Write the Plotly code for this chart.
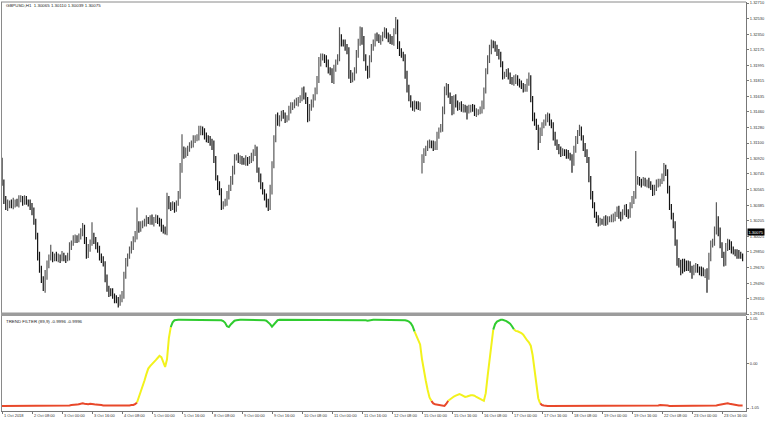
import plotly.graph_objects as go

# ---------------- data ----------------
close = [
 1.3065,1.3045,1.3036,1.3040,1.3041,1.3038,1.3041,1.3042,1.3040,1.3045,1.3046,1.3043,1.3045,1.3042,1.3041,1.3038,1.3031,1.3019,1.3004,1.2981,
 1.2966,1.2953,1.2944,1.2958,1.2970,1.2978,1.2981,1.2978,1.2980,1.2977,1.2979,1.2977,1.2980,1.2978,1.2977,1.2979,1.2992,1.2995,1.2999,1.3001,
 1.3000,1.3002,1.3007,1.3012,1.2999,1.2981,1.2989,1.2995,1.3001,1.2999,1.2992,1.2987,1.2980,1.2976,1.2971,1.2955,1.2943,1.2939,1.2938,1.2934,
 1.2931,1.2930,1.2928,1.2931,1.2934,1.2958,1.2973,1.2980,1.2987,1.2992,1.2999,1.3003,1.3016,1.3012,1.3015,1.3018,1.3019,1.3022,1.3020,1.3023,
 1.3019,1.3022,1.3024,1.3020,1.3018,1.3013,1.3010,1.3008,1.3045,1.3039,1.3036,1.3038,1.3035,1.3041,1.3050,1.3081,1.3102,1.3096,1.3100,1.3104,
 1.3107,1.3110,1.3114,1.3115,1.3117,1.3124,1.3126,1.3122,1.3118,1.3116,1.3114,1.3110,1.3107,1.3091,1.3070,1.3061,1.3054,1.3038,1.3040,1.3042,
 1.3050,1.3058,1.3066,1.3079,1.3093,1.3094,1.3091,1.3092,1.3089,1.3088,1.3091,1.3089,1.3091,1.3094,1.3099,1.3102,1.3079,1.3070,1.3061,1.3054,
 1.3048,1.3041,1.3036,1.3056,1.3085,1.3114,1.3139,1.3134,1.3139,1.3143,1.3141,1.3138,1.3139,1.3148,1.3153,1.3154,1.3156,1.3157,1.3160,1.3161,
 1.3169,1.3164,1.3160,1.3139,1.3150,1.3156,1.3163,1.3169,1.3183,1.3203,1.3208,1.3209,1.3206,1.3202,1.3194,1.3191,1.3183,1.3196,1.3203,1.3208,
 1.3231,1.3226,1.3224,1.3220,1.3217,1.3189,1.3183,1.3187,1.3194,1.3211,1.3226,1.3240,1.3228,1.3208,1.3196,1.3189,1.3206,1.3220,1.3226,1.3232,
 1.3231,1.3228,1.3231,1.3234,1.3238,1.3234,1.3231,1.3228,1.3226,1.3238,1.3249,1.3223,1.3214,1.3211,1.3209,1.3188,1.3173,1.3162,1.3154,1.3151,
 1.3155,1.3153,1.3151,1.3153,1.3091,1.3100,1.3104,1.3108,1.3110,1.3109,1.3105,1.3107,1.3119,1.3125,1.3127,1.3148,1.3169,1.3174,1.3165,1.3160,
 1.3146,1.3160,1.3156,1.3151,1.3153,1.3150,1.3151,1.3148,1.3148,1.3150,1.3151,1.3149,1.3145,1.3146,1.3146,1.3148,1.3154,1.3171,1.3192,1.3206,
 1.3217,1.3225,1.3222,1.3219,1.3215,1.3210,1.3200,1.3188,1.3189,1.3191,1.3187,1.3183,1.3180,1.3183,1.3185,1.3180,1.3177,1.3176,1.3173,1.3174,
 1.3180,1.3185,1.3160,1.3140,1.3134,1.3128,1.3114,1.3123,1.3130,1.3134,1.3139,1.3140,1.3134,1.3130,1.3118,1.3111,1.3105,1.3101,1.3099,1.3100,
 1.3099,1.3097,1.3095,1.3094,1.3088,1.3102,1.3114,1.3122,1.3125,1.3116,1.3105,1.3099,1.3091,1.3068,1.3050,1.3039,1.3027,1.3022,1.3019,1.3020,
 1.3019,1.3022,1.3020,1.3022,1.3023,1.3024,1.3024,1.3028,1.3033,1.3027,1.3025,1.3031,1.3035,1.3030,1.3027,1.3039,1.3045,1.3050,1.3065,1.3068,
 1.3065,1.3064,1.3066,1.3064,1.3065,1.3062,1.3059,1.3054,1.3058,1.3063,1.3065,1.3066,1.3070,1.3081,1.3077,1.3056,1.3036,1.3027,1.3016,1.2995,
 1.2973,1.2973,1.2973,1.2972,1.2972,1.2971,1.2969,1.2966,1.2964,1.2966,1.2967,1.2965,1.2964,1.2962,1.2961,1.2962,1.2958,1.2978,1.2993,1.2996,
 1.3008,1.3022,1.3008,1.2993,1.2981,1.2973,1.2989,1.2996,1.2992,1.2987,1.2985,1.2984,1.2982,1.2981,1.2980,1.2978,
]

upper_wick_pips = [
 14,3,4,5,3,4,6,3,4,5,4,3,5,4,3,4,3,5,4,3,
 4,3,4,6,5,4,12,4,3,5,4,3,6,4,3,5,4,3,5,4,
 3,4,5,6,4,3,5,4,18,6,3,4,5,3,4,3,4,3,4,5,
 3,4,3,5,6,4,5,3,4,5,4,6,20,4,5,3,4,5,3,4,
 5,3,4,3,4,5,3,4,8,4,3,5,4,3,5,6,18,4,5,3,
 4,3,5,4,3,6,4,3,5,4,3,4,5,6,4,3,5,4,3,4,
 5,4,6,5,4,3,5,4,3,4,5,3,4,5,4,6,4,3,5,4,
 3,4,5,6,4,5,4,6,3,4,5,4,3,5,4,3,4,5,3,4,
 5,6,4,3,5,4,3,5,4,6,5,4,3,5,4,3,5,4,3,4,
 12,4,3,5,4,3,5,4,3,6,4,4,3,5,4,3,5,4,3,4,
 5,4,3,4,5,4,3,4,5,4,6,3,4,5,4,3,5,4,3,4,
 4,3,5,4,6,4,3,5,4,3,4,5,4,3,5,4,6,5,4,3,
 4,5,6,3,4,5,4,3,5,4,3,4,5,4,3,4,5,3,4,5,
 6,4,3,5,4,3,5,4,3,4,5,4,3,5,4,3,4,5,3,4,
 4,6,3,4,5,4,3,5,4,3,4,5,4,3,4,5,3,4,5,4,
 3,4,5,4,3,5,4,3,6,4,3,5,4,3,4,5,3,4,5,4,
 3,4,5,4,3,4,5,3,4,5,4,3,4,5,4,3,4,5,36,4,
 3,4,5,4,3,5,4,3,4,5,4,3,5,6,4,3,5,4,3,4,
 4,5,3,4,5,3,4,5,3,4,5,4,3,4,5,3,4,6,5,4,
 6,20,4,5,3,4,6,4,3,5,4,3,4,5,4,3,
]

lower_wick_pips = [
 4,5,3,4,5,3,4,5,3,4,3,5,4,3,4,5,4,3,5,6,
 5,4,4,6,5,4,3,5,4,3,4,5,3,4,5,3,4,5,3,4,
 5,4,3,4,5,4,3,4,3,5,4,3,5,4,3,5,4,6,4,3,
 5,4,7,5,4,3,4,5,3,4,5,3,4,5,4,3,4,5,3,4,
 3,5,4,3,4,5,4,3,4,5,4,3,5,4,3,4,5,4,3,5,
 4,3,5,4,3,4,5,3,4,5,4,3,5,4,3,5,4,5,4,3,
 4,5,3,4,5,3,4,5,4,3,4,5,3,4,5,4,3,5,4,3,
 4,5,4,3,5,4,3,4,5,4,3,5,4,3,4,5,4,3,5,4,
 3,4,5,5,4,3,5,4,3,4,5,3,4,5,4,3,4,5,4,3,
 4,5,3,4,5,5,4,3,5,4,3,4,5,4,3,5,4,3,4,5,
 4,3,5,4,3,4,5,4,3,4,3,5,4,3,5,4,5,4,3,4,
 5,4,3,4,10,4,5,3,4,5,4,3,5,4,3,4,5,4,3,5,
 4,3,5,4,3,4,5,3,11,4,5,3,4,5,4,3,4,5,4,3,
 4,5,3,4,5,4,3,5,4,3,4,5,3,4,5,4,3,4,5,4,
 5,4,3,5,4,3,12,4,5,3,4,5,4,3,5,4,3,4,5,4,
 4,5,3,4,12,4,3,5,4,3,4,5,4,3,5,4,3,4,5,4,
 3,4,5,4,3,4,5,4,3,4,5,3,4,5,4,3,4,5,4,3,
 4,5,3,4,5,4,3,5,4,3,4,5,3,4,5,4,3,5,4,3,
 4,6,15,12,10,8,6,5,10,6,5,4,6,5,4,6,20,5,4,3,
 4,3,5,4,3,5,4,3,5,4,3,4,5,4,3,4,
]

# opens of bars that start a session after a gap (others open at previous close)
session_open = {0: 1.3079, 224: 1.3085}

trend_filter = [
 -1.00,-1.00,-0.99,-0.99,-1.00,-1.00,-1.00,-0.99,-0.99,-0.99,-1.00,-1.00,-1.00,-1.00,-1.00,-1.00,-1.00,-1.00,-1.00,-1.00,
 -1.00,-1.00,-1.00,-1.00,-1.00,-1.00,-1.00,-1.00,-0.99,-0.99,-0.99,-0.99,-0.99,-0.99,-0.99,-0.99,-0.99,-0.98,-0.98,-0.98,
 -0.97,-0.96,-0.95,-0.94,-0.95,-0.96,-0.96,-0.95,-0.95,-0.96,-0.97,-0.97,-0.98,-0.98,-0.99,-0.99,-0.99,-1.00,-1.00,-1.00,
 -1.00,-1.00,-1.00,-1.00,-1.00,-1.00,-0.99,-0.99,-0.99,-0.98,-0.98,-0.96,-0.92,-0.80,-0.68,-0.52,-0.40,-0.25,-0.12,-0.06,
 -0.02,0.03,0.08,0.13,0.18,0.15,0.05,-0.08,0.10,0.60,0.86,0.97,1.02,1.03,1.03,1.03,1.03,1.03,1.03,1.03,
 1.03,1.03,1.03,1.03,1.03,1.03,1.03,1.03,1.03,1.03,1.03,1.03,1.03,1.03,1.03,1.03,1.03,1.02,1.00,0.96,
 0.88,0.86,0.92,0.97,1.01,1.02,1.03,1.03,1.03,1.03,1.03,1.03,1.03,1.03,1.03,1.03,1.03,1.03,1.03,1.03,
 1.02,1.01,0.98,0.93,0.87,0.92,0.99,1.02,1.03,1.03,1.03,1.03,1.03,1.03,1.03,1.03,1.03,1.03,1.03,1.03,
 1.03,1.03,1.03,1.03,1.03,1.03,1.03,1.03,1.03,1.03,1.03,1.03,1.03,1.03,1.03,1.03,1.03,1.03,1.03,1.03,
 1.03,1.03,1.03,1.03,1.03,1.03,1.03,1.03,1.03,1.03,1.03,1.03,1.03,1.03,1.02,1.01,1.02,1.03,1.03,1.03,
 1.03,1.03,1.03,1.03,1.03,1.03,1.03,1.03,1.03,1.03,1.03,1.03,1.03,1.03,1.03,1.02,1.01,0.99,0.95,0.88,
 0.76,0.64,0.54,0.45,0.10,-0.20,-0.40,-0.62,-0.80,-0.88,-0.94,-0.96,-0.97,-0.98,-0.99,-1.00,-1.00,-0.95,-0.88,-0.84,
 -0.80,-0.78,-0.76,-0.73,-0.72,-0.74,-0.77,-0.79,-0.78,-0.76,-0.75,-0.75,-0.76,-0.79,-0.82,-0.84,-0.86,-0.88,-0.70,-0.30,
 0.04,0.50,0.80,0.93,0.99,1.02,1.03,1.03,1.02,1.00,0.97,0.94,0.88,0.81,0.77,0.76,0.74,0.72,0.68,0.60,
 0.55,0.50,0.42,0.20,-0.15,-0.55,-0.82,-0.94,-0.98,-0.99,-1.00,-1.00,-1.00,-1.00,-1.00,-1.00,-1.00,-1.00,-1.00,-1.00,
 -1.00,-1.00,-1.00,-0.99,-0.99,-0.99,-0.99,-0.99,-1.00,-1.00,-1.00,-1.00,-1.00,-1.00,-1.00,-1.00,-1.00,-1.00,-1.00,-1.00,
 -1.00,-1.00,-1.00,-1.00,-1.00,-1.00,-1.00,-1.00,-0.99,-1.00,-1.00,-1.00,-1.00,-1.00,-1.00,-1.00,-0.99,-0.99,-0.99,-0.99,
 -0.99,-0.99,-0.99,-0.99,-0.99,-0.99,-0.99,-0.99,-0.99,-0.99,-0.99,-0.98,-0.98,-0.98,-0.98,-0.99,-1.00,-1.00,-1.00,-1.00,
 -1.00,-1.00,-1.00,-1.00,-1.00,-1.00,-1.00,-1.00,-1.00,-1.00,-1.00,-1.00,-1.00,-1.00,-1.00,-1.00,-1.00,-1.00,-0.99,-0.99,
 -0.99,-0.99,-0.98,-0.97,-0.96,-0.95,-0.94,-0.94,-0.95,-0.96,-0.97,-0.98,-0.98,-0.99,-0.99,-0.99,
]

x_labels = ["1 Oct 2018", "2 Oct 08:00", "3 Oct 00:00", "3 Oct 16:00", "4 Oct 08:00",
            "5 Oct 00:00", "5 Oct 16:00", "8 Oct 08:00", "9 Oct 00:00", "9 Oct 16:00",
            "10 Oct 08:00", "11 Oct 00:00", "11 Oct 16:00", "12 Oct 08:00", "15 Oct 00:00",
            "15 Oct 16:00", "16 Oct 08:00", "17 Oct 00:00", "17 Oct 16:00", "18 Oct 08:00",
            "19 Oct 00:00", "19 Oct 16:00", "22 Oct 08:00", "23 Oct 00:00", "23 Oct 16:00"]
bars_per_label = 16

price_ticks = [1.32710, 1.32530, 1.32350, 1.32175, 1.31995, 1.31815, 1.31635, 1.31460,
               1.31280, 1.31100, 1.30920, 1.30745, 1.30565, 1.30385, 1.30205, 1.30025,
               1.29850, 1.29670, 1.29490, 1.29310, 1.29135]
filter_ticks = [1.05, 0.00, -1.05]
filter_tick_text = ["1.05", "0.00", "-1.05"]

header_text = "GBPUSD,H1  1.30065 1.30110 1.30039 1.30075"
indicator_text = "TREND FILTER (89,9) -0.9996 -0.9996"
last_price = 1.30075

# ---------------- build ----------------
W, H = 768, 421
ML, MR, MT, MB = 1, 22, 2, 10
PH = H - MT - MB


def py(p):
    return (H - MB - p) / PH


def pxf(p):
    return (p - ML) / (W - ML - MR)


n = min(len(close), len(upper_wick_pips), len(lower_wick_pips), len(trend_filter))
idx = list(range(n))
pip = 0.0001
opens = []
for i in idx:
    if i in session_open:
        opens.append(session_open[i])
    else:
        opens.append(close[i - 1] if i > 0 else close[0])
highs = [max(opens[i], close[i]) + upper_wick_pips[i] * pip for i in idx]
lows = [min(opens[i], close[i]) - lower_wick_pips[i] * pip for i in idx]

FONT = "Liberation Sans, Arial, sans-serif"
fig = go.Figure()

fig.add_trace(go.Ohlc(
    x=idx, open=opens[:n], high=highs, low=lows, close=close[:n],
    increasing=dict(line=dict(color="#5a5a5a", width=1.2)),
    decreasing=dict(line=dict(color="#141414", width=1.2)),
    tickwidth=0.3, xaxis="x", yaxis="y", showlegend=False, hoverinfo="skip"))

# indicator, coloured by level
RED, YEL, GRN = "#e8482a", "#f2f21c", "#2fcc2f"


def cls(v):
    if v > 0.82:
        return GRN
    if v < -0.9:
        return RED
    return YEL


segs = {RED: ([], []), YEL: ([], []), GRN: ([], [])}
i = 0
while i < n - 1:
    c = cls((trend_filter[i] + trend_filter[i + 1]) / 2)
    j = i
    while j < n - 1 and cls((trend_filter[j] + trend_filter[j + 1]) / 2) == c:
        j += 1
    xs, ys = segs[c]
    xs.extend(idx[i:j + 1] + [None])
    ys.extend(trend_filter[i:j + 1] + [None])
    i = j

for c, (xs, ys) in segs.items():
    fig.add_trace(go.Scatter(x=xs, y=ys, mode="lines", line=dict(color=c, width=2),
                             xaxis="x2", yaxis="y2", showlegend=False, hoverinfo="skip",
                             connectgaps=False))

# axis ranges from pixel geometry
bar_px = 1.875
x0_px = 2.0
xr = [(ML - x0_px) / bar_px, (W - MR - x0_px) / bar_px]
slope = (price_ticks[0] - price_ticks[-1]) / (314 - 3)
main_top_p, main_bot_p = 2, 315
yr = [price_ticks[0] - (main_bot_p - 3) * slope, price_ticks[0] + (3 - main_top_p) * slope]
ind_top_p, ind_bot_p = 316, 411
per = 1.05 / 44.5
y2r = [-(ind_bot_p - 363.5) * per, (363.5 - ind_top_p) * per]

label_ticks = [k * bars_per_label for k in range(len(x_labels))]

fig.update_layout(
    width=W, height=H, margin=dict(l=ML, r=MR, t=MT, b=MB, autoexpand=False),
    paper_bgcolor="white", plot_bgcolor="white",
    font=dict(family=FONT, size=5, color="#333"),
    xaxis=dict(domain=[0, 1], range=xr, anchor="y", showticklabels=False, showgrid=False,
               zeroline=False, rangeslider=dict(visible=False), ticks=""),
    yaxis=dict(domain=[py(main_bot_p), 1], range=yr, side="right", tickvals=price_ticks,
               ticktext=[f"{t:.5f}" for t in price_ticks], showgrid=False, zeroline=False,
               ticks="outside", ticklen=2, tickcolor="#777", showline=True, linecolor="#777",
               linewidth=1, tickfont=dict(size=4.0, color="#333", family=FONT)),
    xaxis2=dict(domain=[0, 1], range=xr, anchor="y2", tickvals=label_ticks,
                showticklabels=False, ticks="outside", ticklen=2, tickcolor="#777",
                showgrid=False, zeroline=False, showline=True, linecolor="#777", linewidth=1),
    yaxis2=dict(domain=[0, py(ind_top_p)], range=y2r, side="right", tickvals=filter_ticks,
                ticktext=filter_tick_text, showgrid=False, zeroline=False, ticks="outside",
                ticklen=2, tickcolor="#777", showline=True, linecolor="#777", linewidth=1,
                tickfont=dict(size=4.0, color="#333", family=FONT)),
)

shapes = [
    dict(type="line", xref="paper", yref="paper", x0=pxf(1.5), x1=pxf(1.5), y0=0, y1=1,
         line=dict(color="#8a8a8a", width=1)),
    dict(type="line", xref="paper", yref="paper", x0=0, x1=1, y0=py(2), y1=py(2),
         line=dict(color="#8a8a8a", width=1)),
    dict(type="rect", xref="paper", yref="paper", x0=0, x1=1, y0=py(316), y1=py(312.5),
         fillcolor="#9c9c9c", line=dict(width=0), layer="above"),
]
fig.update_layout(shapes=shapes)

ann = []
for k, lab in enumerate(x_labels):
    ann.append(dict(x=label_ticks[k], xref="x2", y=py(415), yref="paper", text=lab,
                    showarrow=False, xanchor="left", yanchor="middle",
                    font=dict(size=4.0, color="#333", family=FONT)))
ann.append(dict(x=pxf(3.5), xref="paper", y=py(5.5), yref="paper", text=header_text,
                showarrow=False, xanchor="left", yanchor="middle",
                font=dict(size=4.4, color="#222", family=FONT)))
ann.append(dict(x=pxf(3.5), xref="paper", y=py(321), yref="paper", text=indicator_text,
                showarrow=False, xanchor="left", yanchor="middle",
                font=dict(size=4.4, color="#222", family=FONT)))
ann.append(dict(x=1, xref="paper", xshift=1, y=last_price, yref="y", text=f"{last_price:.5f}",
                showarrow=False, xanchor="left", yanchor="middle", bgcolor="black",
                borderpad=0.5, font=dict(size=4.0, color="white", family=FONT)))
fig.update_layout(annotations=ann)

fig.write_html("out.html", config={"displayModeBar": False},
               post_script="document.body.style.margin='0';document.body.style.padding='0';")
